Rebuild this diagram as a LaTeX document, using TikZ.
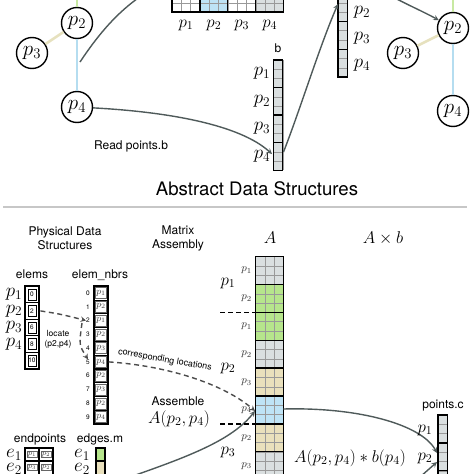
\documentclass[tikz,border=0pt]{standalone}
\usepackage{fix-cm}
\usepackage{fontspec}
\setsansfont{TeX Gyre Heros}
\usetikzlibrary{arrows}
\newcommand\matblock[5]{%
 \fill[#5] (#1,#2) rectangle ++(#3*9.3,#4*9.3);
 \foreach \i in {0,...,#3} \draw[black!40,line width=0.4pt] (#1+\i*9.3,#2) -- ++(0,#4*9.3);
 \foreach \j in {0,...,#4} \draw[black!40,line width=0.4pt] (#1,#2+\j*9.3) -- ++(#3*9.3,0);
 \draw[line width=1.3pt] (#1,#2) rectangle ++(#3*9.3,#4*9.3);}
\begin{document}
\begin{tikzpicture}[x=1pt,y=-1pt,
 vert/.style={circle,draw,line width=1.4pt,fill=white,minimum size=31pt,inner sep=0pt,font=\fontsize{21}{21}\selectfont},
 lab/.style={font=\sffamily\fontsize{12}{14}\selectfont},
 tiny/.style={font=\sffamily\fontsize{6.5}{7}\selectfont,inner sep=0pt},
 big/.style={font=\fontsize{19}{19}\selectfont},
 mid/.style={font=\fontsize{17}{17}\selectfont},
 sm/.style={font=\fontsize{11}{11}\selectfont,text=black!80},
 cellp/.style={font=\fontsize{9.5}{10}\selectfont,text=black!75,inner sep=0.6pt,draw=black!60,line width=0.4pt},
 flow/.style={draw=arrowgray,line width=1.4pt,-stealth},
 dflow/.style={flow,draw=black!70,dash pattern=on 5pt off 3.5pt}]
 \definecolor{cellgray}{HTML}{DADFE0}
 \definecolor{cellgreen}{HTML}{B6E58C}
 \definecolor{celltan}{HTML}{E9E0BC}
 \definecolor{cellblue}{HTML}{BEE3F5}
 \definecolor{linegreen}{HTML}{C8E9A2}
 \definecolor{linetan}{HTML}{E6E1BE}
 \definecolor{lineblue}{HTML}{B5DDF0}
 \definecolor{arrowgray}{HTML}{4F5A5A}
 \useasboundingbox (0,0) rectangle (474,474);
 \clip (0,0) rectangle (474,474);
 \node[vert] (p2L) at (77,23) {$p_2$};
 \node[vert] (p3L) at (32,53) {$p_3$};
 \node[vert] (p4L) at (77,107) {$p_4$};
 \node[vert] (p2R) at (453,28) {$p_2$};
 \node[vert] (p3R) at (403,53) {$p_3$};
 \node[vert] (p4R) at (453,111) {$p_4$};
 \coordinate (upL) at (77,-12);
 \coordinate (upR) at (453,-12);
 \foreach \g in {L,R} {
  \draw[linegreen,line width=2.5pt] (p2\g) -- (up\g);
  \draw[linetan,line width=2.5pt] (p2\g) -- (p3\g);
  \draw[lineblue,line width=2.5pt] (p2\g) -- (p4\g);
 }
 \foreach \col [count=\k from 0] in {white,cellblue,white,cellgray} {\matblock{172+\k*27.9}{-15.9}{3}{3}{\col}}
 \foreach \k in {1,...,4} \node[mid] (tp\k) at (158.05+\k*27.9,25) {$p_{\k}$};
 \node[big] (tprow) at (156,-6) {$p_4$};
 \node[lab,anchor=base] (blab) at (278,52) {b};
 \foreach \k in {0,...,3} {\matblock{273.5}{60+\k*27.5}{1}{3}{cellgray}}
 \foreach \k in {1,...,4} \node[big] (bp\k) at (262,46+\k*27.5) {$p_{\k}$};
 \foreach \k in {0,...,3} {\matblock{338}{-34.5+\k*27.9}{1}{3}{cellgray}}
 \foreach \k in {2,3,4} \node[big,inner sep=0pt] (rp\k) at (362,-41+\k*26.5) {$p_{\k}$};
 \coordinate (midL) at (80,62);
 \coordinate (topout) at (141,-4);
 \draw[arrowgray,line width=1.4pt] (midL) .. controls (100,32) and (118,12) .. (topout);
 \coordinate (bin) at (272,154);
 \draw[flow] (p4L) .. controls (170,112) and (240,125) .. (bin);
 \coordinate (bout) at (283.5,152);
 \coordinate (rin) at (338,4);
 \draw[flow] (bout) .. controls (300,110) and (320,45) .. (rin);
 \coordinate (topin) at (393,-3);
 \draw[flow] (topin) .. controls (410,6) and (424,12) .. (p2R);
 \node[lab,anchor=base] (readb) at (131,149) {Read points.b};
 \node[font=\sffamily\fontsize{18.6}{20}\selectfont,anchor=base] (abs) at (257,195) {Abstract Data Structures};
 \draw[black!22,line width=1.8pt] (3,207) -- (467,207);
 \node[lab,align=center] (phys) at (65,238) {Physical Data\\Structures};
 \node[lab,align=center] (asmb) at (178,238) {Matrix\\Assembly};
 \node[lab,anchor=base] (elemslab) at (32,278) {elems};
 \node[lab,anchor=base] (nbrslab) at (100,278) {elem\_nbrs};
 \foreach \v [count=\k from 0] in {0,2,6,8,10} {
  \draw[line width=1.3pt] (25,286+\k*16.6) rectangle ++(14,16.6);
  \node[tiny,draw,line width=0.4pt,minimum width=8.5pt,minimum height=11pt] (el\k) at (32,294.3+\k*16.6) {\v};
 }
 \foreach \k in {1,...,4} \node[big,inner sep=0pt] (ep\k) at (14,277.7+\k*16.6) {$p_{\k}$};
 \foreach \q [count=\k from 0] in {1,2,1,2,3,4,2,3,2,4} {
  \draw[line width=0.5pt] (94,286+\k*13.8) rectangle ++(14,13.8);
  \node[cellp,minimum width=11pt,minimum height=11pt] (nb\k) at (101,292.9+\k*13.8) {$p_{\q}$};
  \node[tiny] (ix\k) at (88,292.9+\k*13.8) {\k};
 }
 \foreach \ga/\gb in {0/2,2/6,6/8,8/10} \draw[line width=1.3pt] (94,286+\ga*13.8) rectangle (108,286+\gb*13.8);
 \draw[dflow] ([xshift=4pt]el1.east) .. controls (60,314) .. (ix2.west);
 \draw[dflow] ([xshift=-6pt]ix2.south) .. controls (79,345) .. (ix5.north);
 \node[font=\sffamily\fontsize{8.5}{10}\selectfont,align=center] (loc) at (58,339) {locate\\(p2,p4)};
 \coordinate (Ain) at (255,411);
 \draw[dflow] ([xshift=2pt]nb5.east) .. controls (170,366) and (225,385) .. (Ain);
 \node[font=\sffamily\fontsize{9}{10}\selectfont,rotate=-10] (corr) at (165,360) {corresponding locations};
 \node[lab,anchor=base] (asm) at (178,405) {Assemble};
 \node[mid,anchor=base] (asmA) at (179,423) {$A(p_2,p_4)$};
 \coordinate (edgesrc) at (130,477);
 \draw[flow] (edgesrc) .. controls (190,456) and (232,440) .. (Ain);
 \node[mid,anchor=base] (Alab) at (270,243) {$A$};
 \foreach \col [count=\k from 0] in {cellgray,cellgreen,cellgreen,cellgray,celltan,cellblue,celltan,cellgray} {\matblock{255.5}{256.5+\k*27.9}{3}{3}{\col}}
 \foreach \q [count=\k from 0] in {1,2,1,2,3,4,2,3} \node[sm] (ar\k) at (246.5,270.45+\k*27.9) {$p_{\q}$};
 \node[mid] (Ap1) at (228,283) {$p_1$};
 \node[mid] (Ap2) at (228,368) {$p_2$};
 \node[mid] (Ap3) at (228,452) {$p_3$};
 \coordinate (cut1) at (220,312.3);
 \coordinate (cut2) at (220,423.9);
 \foreach \cc in {cut1,cut2} \draw[line width=1.3pt,dash pattern=on 5pt off 3pt] (\cc) -- ++(35.5,0);
 \node[mid,anchor=base] (Axb) at (383,243) {$A\times b$};
 \coordinate (Aout) at (283.4,409);
 \coordinate (cin) at (437,453);
 \coordinate (cin2) at (437,462);
 \coordinate (csrc) at (420,477);
 \draw[flow] (Aout) .. controls (360,407) and (422,425) .. (cin);
 \draw[flow] (csrc) -- (cin2);
 \node[mid,anchor=base] (prod) at (350,462) {$A(p_2,p_4)*b(p_4)$};
 \node[lab,anchor=base] (clab) at (443,408) {points.c};
 \foreach \k in {0,1,2} {\matblock{438}{415+\k*27.9}{1}{3}{cellgray}}
 \node[mid] (cp1) at (425,430) {$p_1$};
 \node[mid] (cp2) at (425,458) {$p_2$};
 \node[lab,anchor=base] (eplab) at (40,442) {endpoints};
 \node[lab,anchor=base] (emlab) at (100,442) {edges.m};
 \foreach \ea/\eb [count=\k from 0] in {1/2,3/2} {
  \node[cellp,font=\fontsize{7.5}{8}\selectfont] (ea\k) at (32,454.5+\k*13) {$p_{\ea}$};
  \node[cellp,font=\fontsize{7.5}{8}\selectfont] (eb\k) at (46,454.5+\k*13) {$p_{\eb}$};
 }
 \draw[line width=1.3pt] (25,448) rectangle (53,477);
 \draw[line width=1.3pt] (39,448) -- (39,477);
 \draw[line width=1.3pt] (25,461) -- (53,461);
 \fill[cellgreen] (96,448) rectangle (105,461);
 \fill[celltan] (96,461) rectangle (105,477);
 \draw[line width=1.3pt] (96,448) rectangle (105,461);
 \draw[line width=1.3pt] (96,461) rectangle (105,477);
 \foreach \k in {1,2} {
  \node[big,inner sep=0pt] (eL\k) at (14,441+\k*14) {$e_{\k}$};
  \node[big,inner sep=0pt] (eM\k) at (82,441+\k*14) {$e_{\k}$};
 }
\end{tikzpicture}
\end{document}
